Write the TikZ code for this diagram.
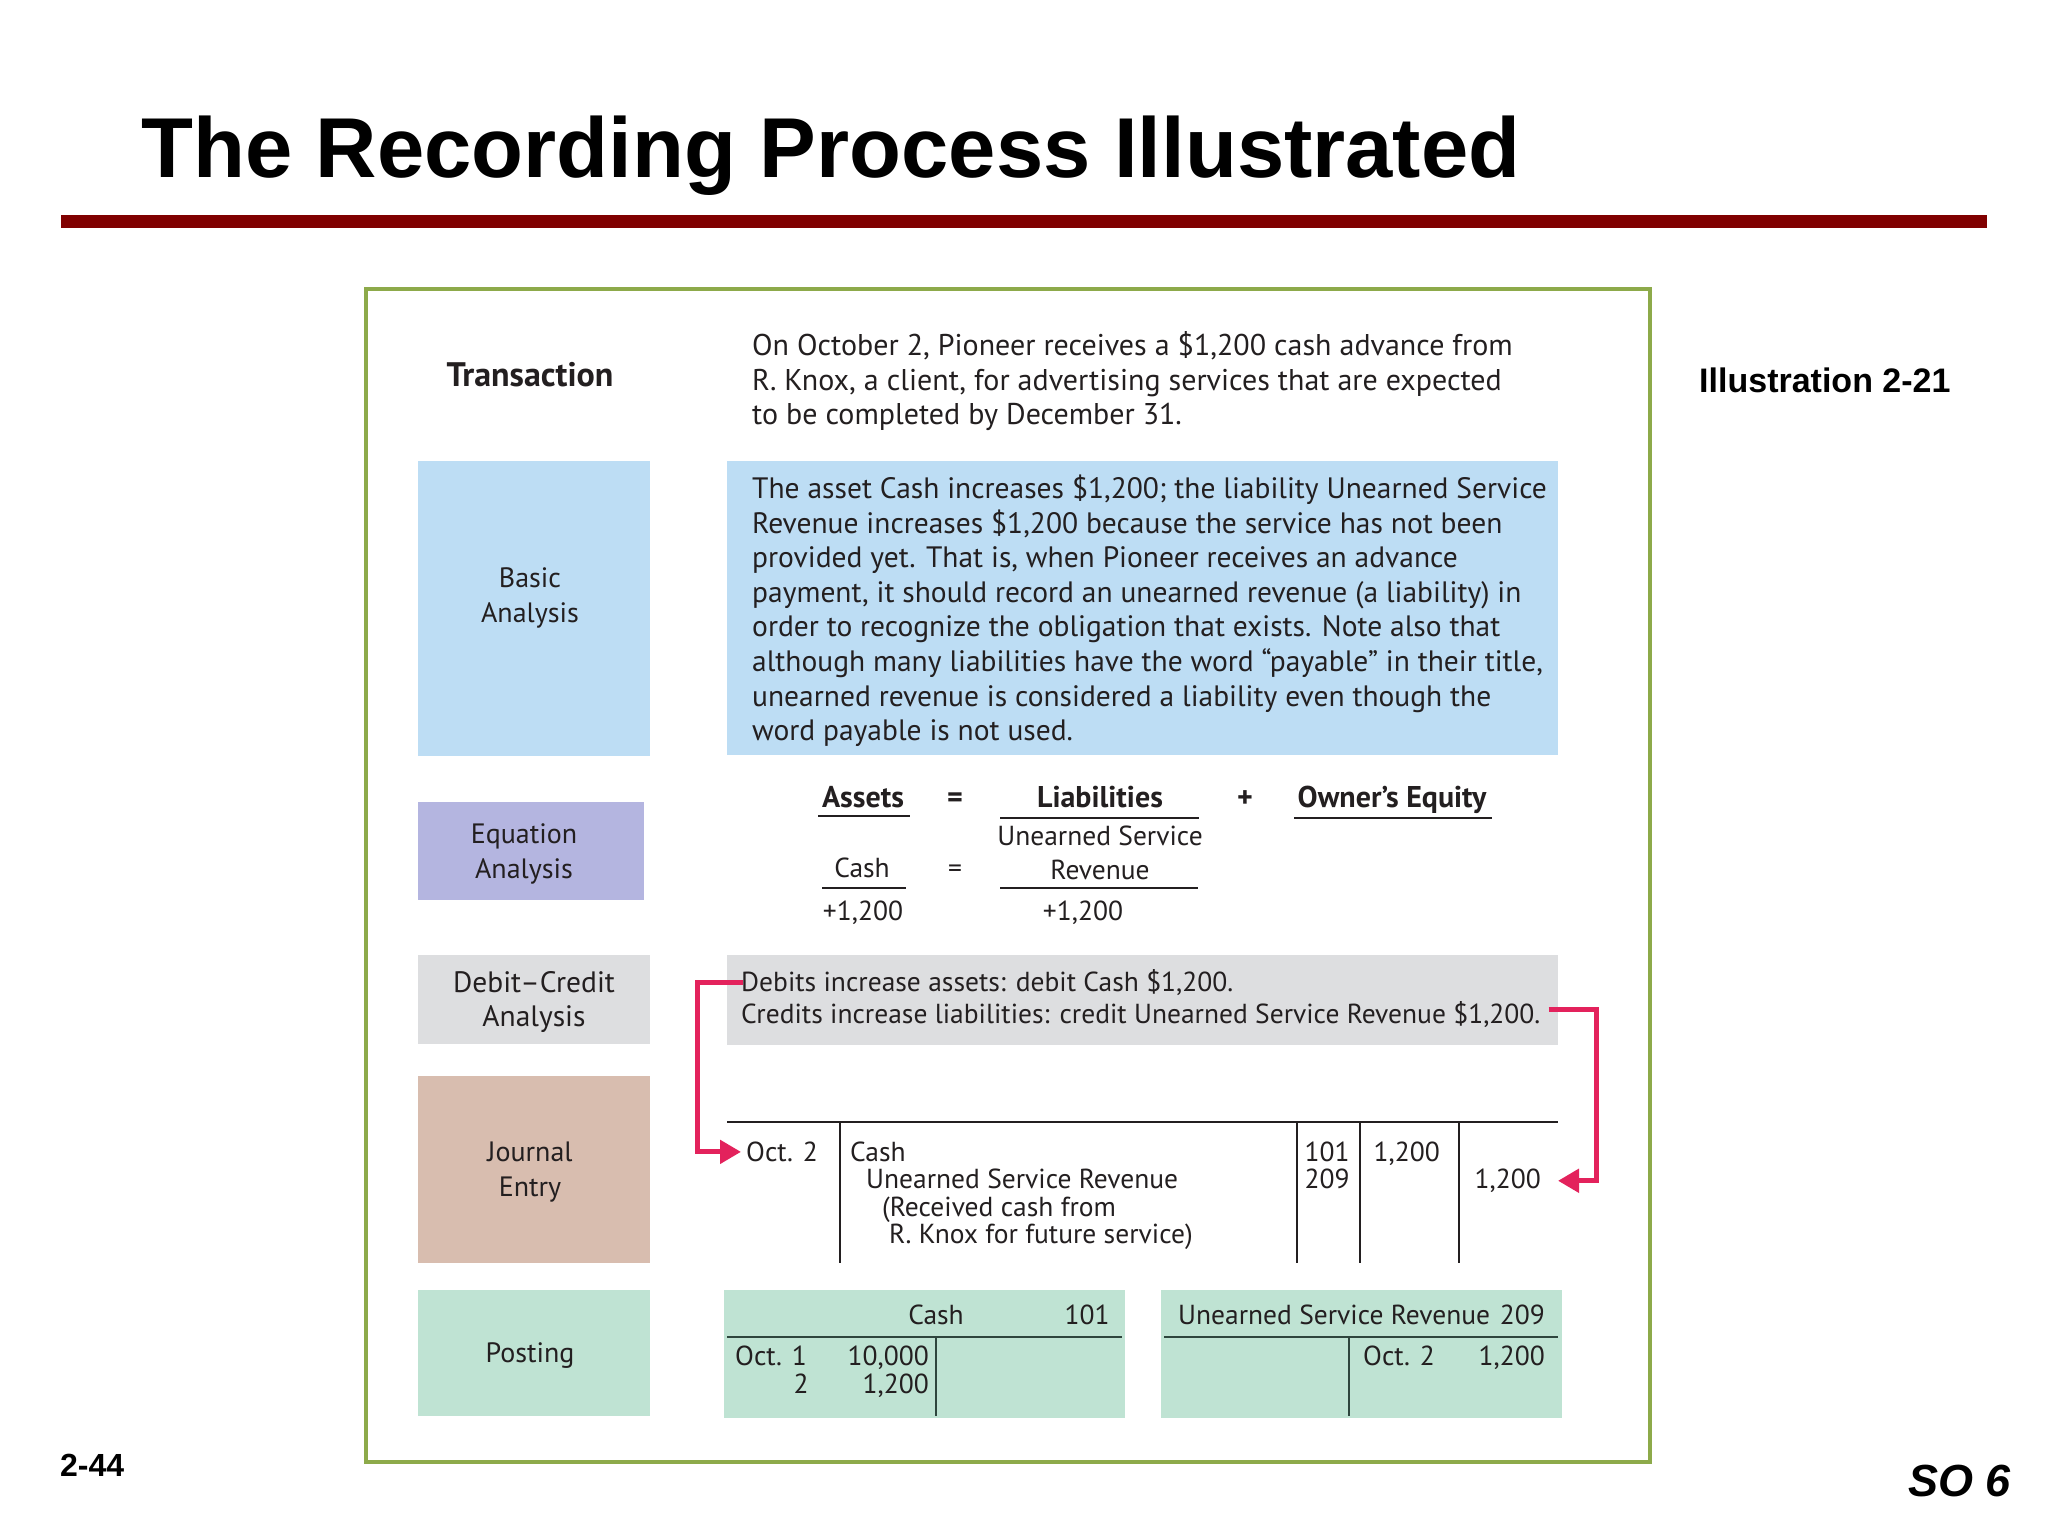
\documentclass[tikz,border=0pt]{standalone}
\usepackage{fontspec}
\setmainfont{PT Sans}
\newfontfamily\arialf{Liberation Sans}
\usetikzlibrary{arrows.meta}
\definecolor{txt}{HTML}{231F20}
\definecolor{barred}{HTML}{800000}
\definecolor{frameg}{HTML}{8DAA4A}
\definecolor{cblue}{HTML}{BDDDF4}
\definecolor{clav}{HTML}{B4B5E0}
\definecolor{cgray}{HTML}{DDDEE0}
\definecolor{ctan}{HTML}{D8BDAF}
\definecolor{cmint}{HTML}{BFE3D3}
\definecolor{cred}{HTML}{E3225C}
\definecolor{tline}{HTML}{2E453D}
\tikzset{
  bt/.style={inner sep=0pt, text=txt, yshift=-8pt, font=\fontsize{27.5}{33}\selectfont},
  btl/.style={bt, anchor=mid west},
  btr/.style={bt, anchor=mid east},
  btc/.style={bt, anchor=mid},
  big/.style={font=\fontsize{30}{34}\selectfont},
  mid/.style={font=\fontsize{29.5}{34}\selectfont},
  hdr/.style={font=\bfseries\fontsize{30}{34}\selectfont},
  lab/.style={inner sep=0pt, text=txt, align=center, yshift=-4pt, font=\fontsize{28}{34.6}\selectfont},
  redc/.style={draw=cred, line width=5pt, -{Triangle[length=21pt,width=23pt]}},
  jline/.style={draw=txt, line width=1.6pt},
  tacc/.style={draw=tline, line width=2.6pt},
  uthick/.style={draw=txt, line width=2.6pt},
  uthin/.style={draw=txt, line width=1.5pt},
}
\begin{document}
\begin{tikzpicture}[x={(1pt,0)}, y={(0,-1pt)}]
\useasboundingbox (0,0) rectangle (2048,1536);
\fill[white] (0,0) rectangle (2048,1536);
% title
\node[anchor=base west, inner sep=0pt, font=\arialf\bfseries\fontsize{85}{90}\selectfont] (title) at (141,178) {The Recording Process Illustrated};
\fill[barred] (61,215) rectangle (1987,228);
\node[anchor=mid west, inner sep=0pt, font=\arialf\bfseries\fontsize{34}{40}\selectfont] (illus) at (1699,390) {Illustration 2-21};
\node[anchor=mid west, inner sep=0pt, font=\arialf\bfseries\fontsize{32}{36}\selectfont] (pnum) at (60,1474) {2-44};
\node[anchor=mid east, inner sep=0pt, font=\arialf\bfseries\itshape\fontsize{45}{50}\selectfont] (so) at (2011,1494) {SO 6};
% frame
\draw[frameg, line width=4pt] (366,289) rectangle (1650,1462);
% left panels
\fill[cblue] (418,461) rectangle (650,756);
\fill[clav] (418,802) rectangle (644,900);
\fill[cgray] (418,955) rectangle (650,1044);
\fill[ctan] (418,1076) rectangle (650,1263);
\fill[cmint] (418,1290) rectangle (650,1416);
\node[lab, yshift=4pt, font=\bfseries\fontsize{34}{38}\selectfont] (ltrans) at (530,375) {Transaction};
\node[lab] (lbasic) at (530,594) {Basic\\Analysis};
\node[lab] (leq) at (524,850) {Equation\\Analysis};
\node[lab, font=\fontsize{29.5}{34.6}\selectfont] (ldc) at (534,998) {Debit–Credit\\Analysis};
\node[lab] (lje) at (530,1168) {Journal\\Entry};
\node[lab] (lpost) at (530,1352) {Posting};
% transaction text
\node[btl, big] (t1) at (752,345) {On October 2, Pioneer receives a \$1,200 cash advance from};
\node[btl, big] (t2) at (752,380) {R. Knox, a client, for advertising services that are expected};
\node[btl, big] (t3) at (752,414) {to be completed by December 31.};
% basic analysis
\fill[cblue] (727,461) rectangle (1558,755);
\node[btl, mid] (b1) at (752,488) {The asset Cash increases \$1,200; the liability Unearned Service};
\node[btl, mid] (b2) at (752,522.6) {Revenue increases \$1,200 because the service has not been};
\node[btl, mid] (b3) at (752,557.2) {provided yet. That is, when Pioneer receives an advance};
\node[btl, mid] (b4) at (752,591.8) {payment, it should record an unearned revenue (a liability) in};
\node[btl, mid] (b5) at (752,626.4) {order to recognize the obligation that exists. Note also that};
\node[btl, mid] (b6) at (752,661) {although many liabilities have the word “payable” in their title,};
\node[btl, mid] (b7) at (752,695.6) {unearned revenue is considered a liability even though the};
\node[btl, mid] (b8) at (752,730) {word payable is not used.};
% equation analysis
\node[btc, hdr] (eA) at (863,797) {Assets};
\node[btc, hdr] (eEq1) at (955,797) {=};
\node[btc, hdr] (eL) at (1100,797) {Liabilities};
\node[btc, hdr] (ePlus) at (1245,797) {+};
\node[btc, hdr] (eOE) at (1392,797) {Owner's Equity};
\draw[uthick] (818,816) -- (910,816);
\draw[uthick] (1000,818) -- (1199,818);
\draw[uthick] (1294,818) -- (1492,818);
\node[btc] (eUS) at (1100,835) {Unearned Service};
\node[btc] (eCash) at (862,867) {Cash};
\node[btc] (eEq2) at (955,867) {=};
\node[btc] (eRev) at (1100,869) {Revenue};
\draw[uthin] (822,888) -- (906,888);
\draw[uthin] (1000,888) -- (1198,888);
\node[btc] (eV1) at (863,910) {+1,200};
\node[btc] (eV2) at (1083,910) {+1,200};
% debit-credit analysis
\fill[cgray] (727,955) rectangle (1558,1045);
\node[btl] (dc1) at (741,981) {Debits increase assets: debit Cash \$1,200.};
\node[btl] (dc2) at (741,1013) {Credits increase liabilities: credit Unearned Service Revenue \$1,200.};
% journal entry
\draw[jline] (727,1122) -- (1558,1122);
\draw[jline] (840,1122) -- (840,1263);
\draw[jline] (1297,1122) -- (1297,1263);
\draw[jline] (1360,1122) -- (1360,1263);
\draw[jline] (1459,1122) -- (1459,1263);
\node[btl] (jdate) at (746,1151) {Oct. 2};
\node[btl] (jdr) at (850,1151) {Cash};
\node[btl] (jcr) at (866,1178) {Unearned Service Revenue};
\node[btl] (jex1) at (882,1206) {(Received cash from};
\node[btl] (jex2) at (889,1233) {R. Knox for future service)};
\node[btc] (jref1) at (1327,1151) {101};
\node[btc] (jref2) at (1327,1178) {209};
\node[btr] (jdamt) at (1440,1151) {1,200};
\node[btr] (jcamt) at (1541,1178) {1,200};
% red connectors
\coordinate (lx) at (697,0);
\coordinate (rx) at (1596,0);
\draw[redc, shorten <=-2pt, shorten >=5pt] (dc1.west) -| (jdate.west -| lx) -- (jdate.west);
\draw[redc, shorten <=8pt, shorten >=17pt] ([yshift=5pt]dc2.east) -| (jcamt.east -| rx) -- (jcamt.east);
% posting: cash
\fill[cmint] (724,1290) rectangle (1125,1418);
\node[btc] (pcash) at (936,1314) {Cash};
\node[btc] (pcno) at (1087,1314) {101};
\draw[tacc] (727,1337) -- (1122,1337);
\draw[tacc] (936,1337) -- (936,1416);
\node[btl] (pc1d) at (735,1355) {Oct. 1};
\node[btr] (pc1a) at (929,1355) {10,000};
\node[btc] (pc2d) at (801,1383) {2};
\node[btr] (pc2a) at (929,1383) {1,200};
% posting: unearned
\fill[cmint] (1161,1290) rectangle (1562,1418);
\node[btl] (pun) at (1178,1314) {Unearned Service Revenue};
\node[btr] (punno) at (1545,1314) {209};
\draw[tacc] (1164,1337) -- (1558,1337);
\draw[tacc] (1349,1337) -- (1349,1416);
\node[btc] (pu1d) at (1399,1355) {Oct. 2};
\node[btr] (pu1a) at (1545,1355) {1,200};
\end{tikzpicture}
\end{document}
